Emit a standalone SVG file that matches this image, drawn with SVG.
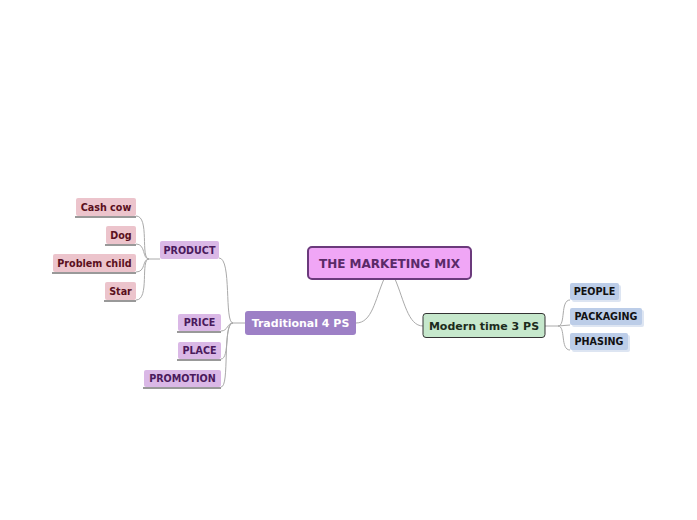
<svg xmlns="http://www.w3.org/2000/svg" width="697" height="520" viewBox="0 0 697 520">
<style>
text{font-family:"DejaVu Sans",Verdana,sans-serif;font-weight:bold;text-anchor:middle;dominant-baseline:central}
.c{fill:none;stroke:#aaa;stroke-width:1}
.u{stroke:#999;stroke-width:2}
.pur{fill:#dab8e6}
.red{fill:#ecc4cc}
.blu{fill:#bccde8}
.sh{fill:#dde5f2}
.t10{font-size:9.6px}
</style>
<rect width="697" height="520" fill="#fff"/>
<g id="connectors">
<path class="c" d="M384 279 C375 300 372 323 356 323"/>
<path class="c" d="M395 279 C404 300 408 326 423 326"/>
<path class="c" d="M245 323 L233 323 C224 323 232 258 219 258"/>
<path class="c" d="M233 323 C227 323 228 331 221 331"/>
<path class="c" d="M233 323 C224 323 230 359 221 359"/>
<path class="c" d="M233 323 C222 323 230 387 221 387"/>
<path class="c" d="M160 259 L149 259 C140 259 150 216 136 216"/>
<path class="c" d="M149 259 C142 259 146 244 136 244"/>
<path class="c" d="M149 259 C142 259 146 272 136 272"/>
<path class="c" d="M149 259 C140 259 150 300 136 300"/>
<path class="c" d="M545 326 L558 326 C566 326 560 300 570 300"/>
<path class="c" d="M558 326 L570 325"/>
<path class="c" d="M558 326 C566 326 560 350 570 350"/>
</g>
<g id="central">
<rect x="308" y="247" width="163" height="32" rx="4" fill="#f0a6f6" stroke="#6b3a7c" stroke-width="2"/>
<text x="389.5" y="263.5" font-size="12" fill="#5a2a68">THE MARKETING MIX</text>
</g>
<g id="traditional">
<rect x="245" y="311" width="111" height="24" rx="3" fill="#9d80c6"/>
<text x="300.5" y="323" font-size="11" fill="#fff">Traditional 4 PS</text>
</g>
<g id="modern">
<rect x="423" y="313.5" width="122" height="24" rx="3" fill="#c6e8cc" stroke="#333" stroke-width="1"/>
<text x="484" y="326" font-size="11" fill="#1c2c1c">Modern time 3 PS</text>
</g>
<g id="product">
<rect class="pur" x="160" y="241" width="59" height="18" rx="2"/>
<text class="t10" x="189.5" y="250" fill="#4a1a5c">PRODUCT</text>
</g>
<g id="cashcow">
<rect class="red" x="76" y="198" width="60" height="18" rx="2"/>
<line class="u" x1="75" y1="217" x2="136" y2="217"/>
<text class="t10" x="106" y="207" fill="#5a1020">Cash cow</text>
</g>
<g id="dog">
<rect class="red" x="106" y="226" width="30" height="18" rx="2"/>
<line class="u" x1="105" y1="245" x2="136" y2="245"/>
<text class="t10" x="121" y="235" fill="#5a1020">Dog</text>
</g>
<g id="problemchild">
<rect class="red" x="53" y="254" width="83" height="18" rx="2"/>
<line class="u" x1="52" y1="273" x2="136" y2="273"/>
<text class="t10" x="94.5" y="263" fill="#5a1020">Problem child</text>
</g>
<g id="star">
<rect class="red" x="105" y="282" width="31" height="18" rx="2"/>
<line class="u" x1="104" y1="301" x2="136" y2="301"/>
<text class="t10" x="120.5" y="291" fill="#5a1020">Star</text>
</g>
<g id="price">
<rect class="pur" x="178" y="314" width="43" height="17" rx="2"/>
<line class="u" x1="177" y1="332" x2="221" y2="332"/>
<text class="t10" x="199.5" y="322.5" fill="#4a1a5c">PRICE</text>
</g>
<g id="place">
<rect class="pur" x="178" y="342" width="43" height="17" rx="2"/>
<line class="u" x1="177" y1="360" x2="221" y2="360"/>
<text class="t10" x="199.5" y="350.5" fill="#4a1a5c">PLACE</text>
</g>
<g id="promotion">
<rect class="pur" x="144" y="370" width="77" height="17" rx="2"/>
<line class="u" x1="143" y1="388" x2="221" y2="388"/>
<text class="t10" x="182.5" y="378.5" fill="#4a1a5c">PROMOTION</text>
</g>
<g id="people">
<rect class="sh" x="572" y="285" width="49" height="17" rx="2"/>
<rect class="blu" x="570" y="283" width="49" height="17" rx="2"/>
<text class="t10" x="594.5" y="291.5" fill="#111">PEOPLE</text>
</g>
<g id="packaging">
<rect class="sh" x="572" y="310" width="72" height="17" rx="2"/>
<rect class="blu" x="570" y="308" width="72" height="17" rx="2"/>
<text class="t10" x="606" y="316.5" fill="#111">PACKAGING</text>
</g>
<g id="phasing">
<rect class="sh" x="572" y="335" width="58" height="17" rx="2"/>
<rect class="blu" x="570" y="333" width="58" height="17" rx="2"/>
<text class="t10" x="599" y="341.5" fill="#111">PHASING</text>
</g>
</svg>
